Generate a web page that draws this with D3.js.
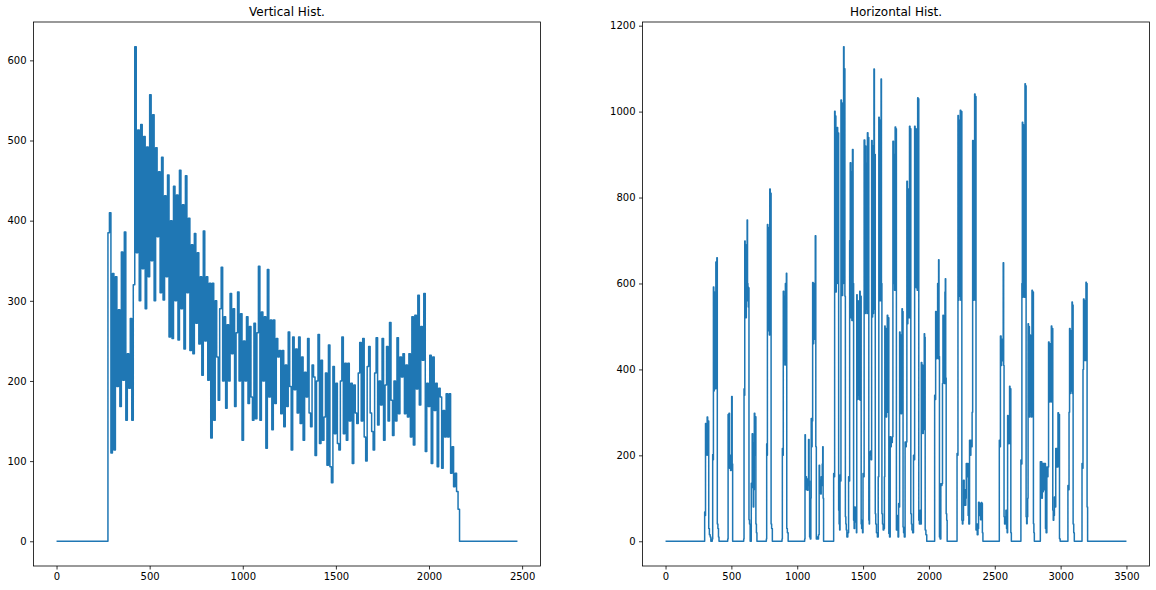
<!DOCTYPE html>
<html>
<head>
<meta charset="utf-8">
<script src="https://cdn.jsdelivr.net/npm/d3@7"></script>
<style>
    body { margin: 0; background: #fff; }
    svg text { font-family: "DejaVu Sans", sans-serif; fill: #000; }
</style>
</head>
<body>
<div id="chart"></div>
<script>
// ---------- data ----------
// Left panel: values sampled every 8 bins, starting at bin 272
const vertStart = 272;
const vertStep = 8;
const vertEnd = 2475;
const vertVals = [
    0, 385, 410, 110, 334, 114, 330, 193, 289, 168,
    361, 201, 386, 151, 234, 191, 278, 151, 320, 617,
    360, 513, 300, 520, 340, 505, 290, 492, 330, 557,
    350, 532, 300, 491, 380, 461, 310, 479, 301, 431,
    330, 457, 255, 400, 253, 443, 300, 432, 251, 463,
    290, 420, 240, 456, 310, 403, 238, 370, 234, 384,
    272, 360, 246, 330, 207, 387, 250, 330, 201, 322,
    129, 322, 151, 300, 230, 176, 290, 342, 200, 280,
    166, 270, 200, 309, 234, 290, 168, 260, 311, 200,
    284, 126, 250, 200, 280, 172, 268, 180, 151, 272,
    153, 260, 343, 151, 286, 200, 280, 116, 339, 180,
    276, 139, 276, 172, 253, 230, 238, 159, 238, 143,
    220, 168, 261, 193, 114, 255, 189, 240, 160, 255,
    147, 230, 126, 211, 180, 253, 160, 143, 220, 205,
    107, 200, 258, 122, 226, 126, 155, 210, 95, 245,
    93, 73, 218, 134, 197, 122, 114, 200, 255, 134,
    222, 126, 222, 150, 197, 97, 195, 160, 147, 210,
    248, 150, 253, 130, 100, 218, 243, 160, 137, 114,
    210, 254, 145, 200, 170, 253, 126, 195, 243, 150,
    273, 176, 132, 200, 150, 254, 159, 230, 205, 234,
    159, 220, 155, 234, 130, 280, 120, 282, 190, 307,
    170, 268, 226, 309, 112, 197, 168, 232, 97, 230,
    163, 197, 93, 191, 180, 91, 163, 130, 184, 130,
    184, 85, 118, 68, 85, 62, 40, 0
];

// Right panel: [bin, value] break points
const horizPoints = [
    [0, 0],
    [290, 0], [296, 0], [298, 68], [302, 60], [305, 274], [308, 200], [311, 270], [314, 210], [318, 289], [322, 200], [326, 280], [330, 30], [336, 15], [342, 10], [346, 0],
    [352, 0], [357, 5], [359, 202], [362, 190], [365, 592], [368, 350], [371, 580], [374, 360], [377, 540], [380, 355], [384, 650], [388, 420], [391, 660], [395, 40], [400, 30], [404, 10], [408, 0],
    [470, 0], [474, 5], [476, 295], [480, 190], [484, 298], [488, 170], [492, 200], [496, 165], [500, 190], [504, 337], [508, 180], [511, 0],
    [592, 0], [595, 5], [597, 355], [600, 340], [603, 699], [606, 540], [609, 690], [612, 520], [615, 680], [618, 560], [621, 748], [624, 600], [627, 592], [630, 545], [632, 590], [635, 50], [640, 40], [645, 0],
    [650, 0], [652, 135], [656, 125], [660, 250], [664, 230], [668, 80], [672, 120], [676, 298], [680, 200], [684, 290], [688, 40], [692, 20], [696, 0],
    [764, 0], [767, 5], [769, 227], [772, 200], [775, 737], [778, 500], [781, 730], [784, 490], [787, 700], [790, 480], [793, 820], [797, 520], [800, 810], [803, 40], [808, 30], [814, 0],
    [883, 0], [886, 5], [888, 216], [892, 200], [896, 582], [900, 420], [904, 570], [908, 410], [912, 600], [916, 430], [919, 624], [922, 30], [928, 20], [934, 0],
    [1055, 0], [1058, 5], [1060, 248], [1064, 140], [1068, 150], [1072, 120], [1076, 145], [1080, 119], [1084, 130], [1088, 237], [1092, 140], [1096, 10], [1102, 5],
    [1105, 100], [1107, 286], [1111, 220], [1115, 280], [1119, 602], [1123, 460], [1127, 600], [1131, 470], [1135, 560], [1139, 711], [1143, 220], [1147, 5], [1152, 10], [1158, 5],
    [1165, 15], [1168, 177], [1172, 120], [1176, 142], [1180, 110], [1184, 150], [1188, 130], [1192, 180], [1195, 220], [1198, 100], [1202, 0],
    [1275, 0], [1278, 158], [1282, 150], [1286, 1001], [1289, 600], [1292, 990], [1295, 580], [1298, 900], [1301, 620], [1305, 963], [1309, 600], [1313, 950], [1316, 72], [1320, 40], [1324, 26],
    [1326, 154], [1330, 140], [1334, 1027], [1337, 600], [1340, 1020], [1343, 572], [1347, 900], [1350, 600], [1354, 1151], [1357, 620], [1360, 1100], [1364, 570], [1367, 57], [1371, 40], [1374, 26],
    [1380, 10], [1388, 20], [1392, 150], [1396, 140], [1400, 700], [1405, 881], [1409, 520], [1413, 860], [1417, 514], [1422, 912], [1426, 600], [1430, 49], [1434, 30], [1438, 80], [1443, 45], [1448, 60], [1451, 20],
    [1453, 574], [1457, 330], [1461, 560], [1465, 340], [1469, 500], [1473, 330], [1476, 582], [1480, 328], [1484, 570], [1487, 40], [1491, 30], [1494, 49], [1498, 20],
    [1501, 158], [1505, 150], [1511, 934], [1515, 530], [1519, 920], [1523, 540], [1527, 880], [1531, 530], [1535, 951], [1539, 560], [1542, 940], [1545, 49], [1548, 40],
    [1550, 208], [1555, 200], [1559, 210], [1563, 190], [1567, 933], [1571, 522], [1574, 920], [1578, 530], [1581, 880], [1584, 1099], [1588, 540], [1591, 900], [1594, 64], [1598, 40],
    [1605, 20], [1612, 10], [1618, 150], [1621, 987], [1624, 560], [1628, 980], [1632, 560], [1635, 900], [1638, 1076], [1641, 600], [1645, 64], [1650, 40], [1655, 26], [1660, 30],
    [1664, 150], [1666, 501], [1669, 300], [1673, 495], [1677, 289], [1681, 450], [1686, 526], [1689, 300], [1693, 520], [1698, 18], [1704, 10],
    [1708, 243], [1712, 220], [1716, 240], [1720, 230], [1724, 243], [1729, 931], [1733, 600], [1737, 900], [1741, 584], [1746, 964], [1749, 600], [1751, 960], [1755, 26], [1759, 60], [1763, 30],
    [1768, 10], [1772, 88], [1776, 80], [1779, 487], [1783, 300], [1786, 480], [1790, 297], [1794, 470], [1797, 541], [1800, 300], [1802, 535], [1805, 33], [1810, 20],
    [1816, 10], [1822, 231], [1826, 220], [1830, 231], [1835, 838], [1838, 506], [1842, 820], [1846, 520], [1850, 780], [1855, 966], [1858, 520], [1860, 960], [1865, 64], [1869, 40], [1873, 26],
    [1880, 20], [1886, 200], [1890, 190], [1893, 966], [1897, 600], [1901, 960], [1905, 590], [1909, 900], [1913, 584], [1916, 1032], [1919, 600], [1921, 1030], [1925, 49], [1930, 40], [1936, 72], [1940, 40],
    [1944, 416], [1948, 260], [1951, 410], [1955, 251], [1959, 400], [1963, 260], [1966, 483], [1969, 475], [1974, 26], [1980, 15], [1987, 0],
    [2042, 0], [2045, 340], [2049, 330], [2053, 535], [2057, 425], [2060, 530], [2064, 430], [2068, 600], [2072, 425], [2075, 655], [2078, 430], [2082, 10], [2088, 5],
    [2093, 134], [2097, 130], [2101, 134], [2105, 367], [2108, 526], [2112, 370], [2116, 500], [2120, 367], [2123, 580], [2126, 611], [2129, 380], [2133, 64], [2137, 49], [2140, 0],
    [2212, 0], [2215, 204], [2219, 200], [2222, 991], [2226, 561], [2229, 980], [2232, 570], [2236, 900], [2240, 1003], [2244, 561], [2248, 1000], [2252, 49], [2256, 40], [2260, 49],
    [2265, 142], [2270, 84], [2274, 120], [2278, 84], [2282, 100], [2285, 181], [2290, 150], [2296, 181], [2300, 60], [2306, 40], [2311, 235], [2316, 200], [2321, 235], [2326, 220],
    [2330, 300], [2334, 933], [2338, 561], [2341, 920], [2345, 570], [2349, 1041], [2352, 561], [2356, 1035], [2359, 26], [2364, 40], [2370, 15], [2375, 30],
    [2379, 91], [2384, 60], [2390, 88], [2395, 50], [2400, 90], [2404, 88], [2408, 20], [2412, 0],
    [2533, 0], [2536, 235], [2540, 220], [2546, 478], [2550, 409], [2554, 470], [2558, 420], [2562, 470], [2566, 648], [2569, 409], [2572, 57], [2577, 40], [2582, 57], [2587, 72], [2592, 30], [2596, 20],
    [2599, 293], [2603, 227], [2607, 290], [2611, 230], [2614, 361], [2617, 227], [2620, 355], [2624, 20], [2628, 0],
    [2697, 0], [2700, 189], [2704, 180], [2708, 600], [2711, 975], [2714, 568], [2716, 970], [2720, 580], [2724, 900], [2728, 568], [2731, 1065], [2734, 600], [2736, 1060], [2740, 57], [2744, 41], [2748, 57],
    [2752, 100], [2754, 506], [2758, 300], [2761, 500], [2765, 289], [2769, 480], [2773, 300], [2777, 470], [2781, 289], [2784, 584], [2788, 300], [2792, 580], [2795, 41], [2799, 20], [2802, 0],
    [2845, 0], [2847, 185], [2851, 170], [2855, 185], [2859, 100], [2863, 181], [2867, 115], [2870, 181], [2875, 181], [2879, 120], [2883, 181], [2887, 30], [2893, 20], [2898, 173], [2902, 150], [2906, 173],
    [2911, 464], [2914, 324], [2918, 460], [2921, 330], [2925, 440], [2928, 324], [2931, 501], [2935, 330], [2939, 495], [2942, 72], [2946, 49], [2950, 60],
    [2956, 103], [2960, 80], [2966, 216], [2970, 173], [2974, 216], [2978, 173], [2982, 299], [2986, 180], [2989, 295], [2994, 6], [2999, 0],
    [3054, 0], [3057, 130], [3062, 120], [3066, 300], [3070, 495], [3074, 344], [3078, 490], [3082, 350], [3085, 470], [3088, 557], [3091, 344], [3093, 550], [3097, 40], [3102, 20], [3106, 0],
    [3161, 0], [3164, 181], [3168, 170], [3172, 400], [3176, 564], [3180, 421], [3184, 560], [3188, 421], [3191, 540], [3194, 603], [3197, 421], [3199, 600], [3203, 80], [3207, 0],
    [3500, 0]
];

const vertTitle = "Vertical Hist.";
const horizTitle = "Horizontal Hist.";
const vertXTicks = [0, 500, 1000, 1500, 2000, 2500];
const vertYTicks = [0, 100, 200, 300, 400, 500, 600];
const horizXTicks = [0, 500, 1000, 1500, 2000, 2500, 3000, 3500];
const horizYTicks = [0, 200, 400, 600, 800, 1000, 1200];

// ---------- layout ----------
const WIDTH = 1156;
const HEIGHT = 590;
const PANEL_TOP = 22;
const PANEL_BOTTOM = 566;
const LINE_COLOR = "#1f77b4";

const svg = d3.select("#chart")
    .append("svg")
    .attr("width", WIDTH)
    .attr("height", HEIGHT);

// matplotlib-style 5% data margins
function padded(extent) {
    const pad = (extent[1] - extent[0]) * 0.05;
    return [extent[0] - pad, extent[1] + pad];
}

function drawPanel(points, left, right, title, xTicks, yTicks, curve) {
    const x = d3.scaleLinear()
        .domain(padded(d3.extent(points, d => d[0])))
        .range([left, right]);
    const y = d3.scaleLinear()
        .domain(padded(d3.extent(points, d => d[1])))
        .range([PANEL_BOTTOM, PANEL_TOP]);

    const line = d3.line()
        .curve(curve)
        .x(d => x(d[0]))
        .y(d => y(d[1]));

    svg.append("path")
        .datum(points)
        .attr("d", line)
        .attr("fill", "none")
        .attr("stroke", LINE_COLOR)
        .attr("stroke-width", 1.5)
        .attr("stroke-linejoin", "round");

    // axes
    const fmt = d3.format("d");
    const xAxis = svg.append("g")
        .attr("transform", `translate(0,${PANEL_BOTTOM})`)
        .call(d3.axisBottom(x).tickValues(xTicks).tickFormat(fmt)
            .tickSize(3.5).tickPadding(3.5).tickSizeOuter(0));
    const yAxis = svg.append("g")
        .attr("transform", `translate(${left},0)`)
        .call(d3.axisLeft(y).tickValues(yTicks).tickFormat(fmt)
            .tickSize(3.5).tickPadding(3.5).tickSizeOuter(0));

    [xAxis, yAxis].forEach(ax => {
        ax.select(".domain").remove();
        ax.selectAll("line").attr("stroke", "#000").attr("stroke-width", 0.8);
        ax.selectAll("text")
            .attr("font-family", "DejaVu Sans")
            .attr("font-size", 10)
            .attr("fill", "#000");
    });

    // spines
    svg.append("rect")
        .attr("x", left)
        .attr("y", PANEL_TOP)
        .attr("width", right - left)
        .attr("height", PANEL_BOTTOM - PANEL_TOP)
        .attr("fill", "none")
        .attr("stroke", "#000")
        .attr("stroke-width", 0.8);

    svg.append("text")
        .attr("x", (left + right) / 2)
        .attr("y", PANEL_TOP - 6)
        .attr("text-anchor", "middle")
        .attr("font-size", 12)
        .text(title);
}

// build the left series from its sampled values
const vertPoints = [[0, 0]]
    .concat(vertVals.map((v, i) => [vertStart + i * vertStep, v]))
    .concat([[vertEnd, 0]]);

// both series are very dense: draw them with steps so they fill like the original
drawPanel(vertPoints, 33.5, 540.5, vertTitle, vertXTicks, vertYTicks, d3.curveStep);
drawPanel(horizPoints, 642.5, 1149.5, horizTitle, horizXTicks, horizYTicks, d3.curveStep);
</script>
</body>
</html>
